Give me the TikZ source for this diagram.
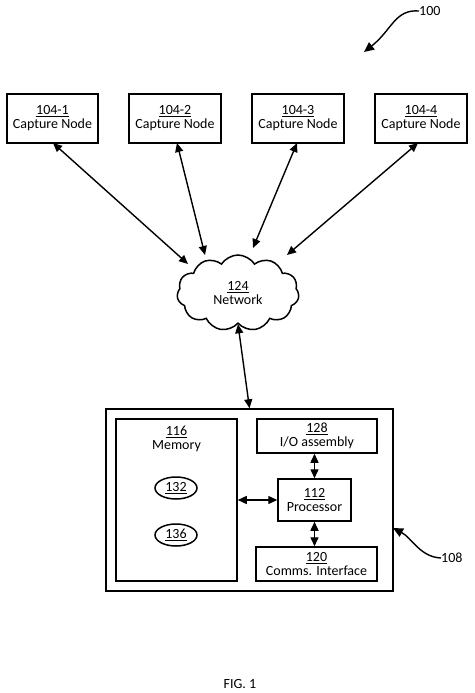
\documentclass[tikz,border=0pt]{standalone}
\usepackage{fontspec}
\setmainfont{Carlito}
\usetikzlibrary{shapes.symbols,shapes.geometric,arrows.meta}
\begin{document}
\begin{tikzpicture}[x=1pt,y=-1pt,
  every node/.style={font=\fontsize{14}{14}\selectfont},
  box/.style={draw,line width=1.5pt,align=center,inner sep=0pt},
  lbl/.style={align=center,inner sep=0pt},
  con/.style={line width=1.4pt,{Triangle[length=9pt,width=8pt]}-{Triangle[length=9pt,width=8pt]}},
  lead/.style={line width=1.4pt,-{Triangle[length=10pt,width=9pt]}}]
\useasboundingbox (0,0) rectangle (474,693);
% capture nodes
\node[box,minimum width=91,minimum height=49] (c1) at (52.5,118.5) {\underline{104-1}\\Capture Node};
\node[box,minimum width=92,minimum height=49] (c2) at (175,118.5) {\underline{104-2}\\Capture Node};
\node[box,minimum width=92,minimum height=49] (c3) at (298,118.5) {\underline{104-3}\\Capture Node};
\node[box,minimum width=92,minimum height=49] (c4) at (421,118.5) {\underline{104-4}\\Capture Node};
% cloud
\node[cloud,draw,line width=1.5pt,cloud puffs=11,cloud puff arc=115,aspect=1.6,
      minimum width=122,minimum height=76,align=center,inner sep=0pt] (net) at (238,293) {\underline{124}\\Network};
\coordinate (n1) at (188,264);
\coordinate (n2) at (205,255);
\coordinate (n3) at (253,248);
\coordinate (n4) at (287,255);
\coordinate (t1) at (53,143);
\coordinate (t2) at (177,143);
\coordinate (t3) at (297,143);
\coordinate (t4) at (418,143);
\draw[con] (t1) -- (n1);
\draw[con] (t2) -- (n2);
\draw[con] (t3) -- (n3);
\draw[con] (t4) -- (n4);
% main box
\node[box,minimum width=287,minimum height=182] (main) at (249.5,500) {};
\draw[con] (net.south) -- (main.north);
% memory
\node[box,minimum width=121,minimum height=162] (mem) at (176.5,500) {};
\node[lbl,anchor=north] (memt) at (176.5,426) {\underline{116}\\Memory};
\node[ellipse,draw,line width=1.5pt,minimum width=42,minimum height=22,inner sep=0pt] (e132) at (176,488) {\underline{132}};
\node[ellipse,draw,line width=1.5pt,minimum width=42,minimum height=22,inner sep=0pt] (e136) at (176,535) {\underline{136}};
% io, processor, comms
\node[box,minimum width=120,minimum height=34] (io) at (317,436) {\underline{128}\\I/O assembly};
\node[box,minimum width=73,minimum height=42] (proc) at (314.5,500) {\underline{112}\\Processor};
\node[box,minimum width=121,minimum height=34] (comm) at (316.5,564) {\underline{120}\\Comms. Interface};
\draw[con] (mem.east) -- (proc.west);
\draw[con] (proc.north) -- (proc.north |- io.south);
\draw[con] (proc.south) -- (proc.south |- comm.north);
% reference labels
\node[lbl,anchor=west] (l108) at (441,558) {108};
\coordinate (m108) at (393,528);
\draw[lead] (l108.west) .. controls (420,557) and (412,538) .. (m108);
\node[lbl,anchor=west] (l100) at (419,11) {100};
\coordinate (m100) at (364,52);
\draw[lead] (l100.west) .. controls (395,9) and (392,30) .. (m100);
\node[lbl] (fig) at (240,684) {FIG. 1};
\end{tikzpicture}
\end{document}
